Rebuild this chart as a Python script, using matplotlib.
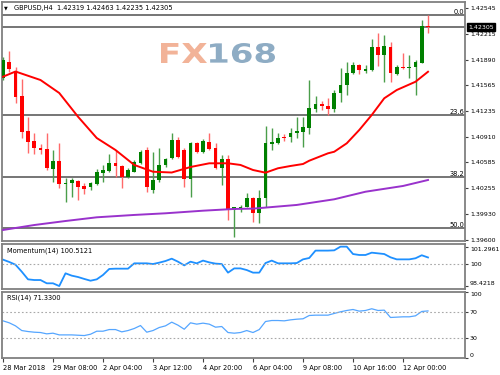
import numpy as np
import matplotlib.pyplot as plt
from matplotlib.textpath import TextPath
from matplotlib.patches import PathPatch
from matplotlib.font_manager import FontProperties
from matplotlib.transforms import Affine2D, IdentityTransform

# GBPUSD H4, 28 Mar - 12 Apr 2018
opens = [1.41657, 1.41864, 1.41750, 1.41429, 1.40984, 1.40857, 1.40772, 1.40752, 1.40502, 1.40603,
         1.40311, 1.40320, 1.40353, 1.40286, 1.40277, 1.40307, 1.40455, 1.40480, 1.40582, 1.40540,
         1.40404, 1.40467, 1.40574, 1.40743, 1.40235, 1.40362, 1.40553, 1.40638, 1.40870, 1.40743,
         1.40371, 1.40836, 1.40721, 1.40848, 1.40765, 1.40511, 1.40629, 1.39981, 1.39994, 1.40023,
         1.40130, 1.39939, 1.40130, 1.40819, 1.40827, 1.40914, 1.40904, 1.40955, 1.40975, 1.41019,
         1.41264, 1.41323, 1.41302, 1.41264, 1.41463, 1.41569, 1.41717, 1.41823, 1.41750, 1.41759,
         1.42055, 1.41950, 1.42055, 1.41708, 1.41801, 1.41781, 1.41801, 1.41852, 1.42319]
highs = [1.41924, 1.42000, 1.41797, 1.41645, 1.41162, 1.40959, 1.40819, 1.40959, 1.40743, 1.40832,
         1.40387, 1.40387, 1.40362, 1.40324, 1.40340, 1.40502, 1.40553, 1.40692, 1.40743, 1.40553,
         1.40514, 1.40616, 1.40743, 1.40781, 1.40721, 1.40768, 1.40638, 1.40955, 1.40912, 1.40768,
         1.40848, 1.40848, 1.40879, 1.40955, 1.40828, 1.40680, 1.40680, 1.40023, 1.40045, 1.40201,
         1.40142, 1.40235, 1.41048, 1.41019, 1.40955, 1.40946, 1.41019, 1.41166, 1.41166, 1.41632,
         1.41429, 1.41369, 1.41400, 1.41505, 1.41781, 1.41864, 1.41857, 1.41835, 1.41823, 1.42149,
         1.42233, 1.42204, 1.42118, 1.41823, 1.41979, 1.41950, 1.41886, 1.42394, 1.42463]
lows = [1.41632, 1.41734, 1.41340, 1.40895, 1.40705, 1.40692, 1.40692, 1.40495, 1.40340, 1.40260,
        1.40086, 1.40150, 1.40108, 1.40184, 1.40235, 1.40298, 1.40340, 1.40467, 1.40404, 1.40257,
        1.40387, 1.40464, 1.40565, 1.40213, 1.40193, 1.40340, 1.40531, 1.40625, 1.40638, 1.40277,
        1.40150, 1.40709, 1.40709, 1.40743, 1.40498, 1.40298, 1.39854, 1.39642, 1.39959, 1.40015,
        1.39832, 1.39812, 1.40023, 1.40743, 1.40820, 1.40857, 1.40848, 1.40892, 1.40777, 1.40946,
        1.41229, 1.41251, 1.41188, 1.41229, 1.41356, 1.41442, 1.41708, 1.41708, 1.41717, 1.41750,
        1.41810, 1.41610, 1.41610, 1.41696, 1.41768, 1.41654, 1.41442, 1.41844, 1.42235]
closes = [1.41886, 1.41768, 1.41420, 1.40975, 1.40848, 1.40768, 1.40743, 1.40511, 1.40603, 1.40307,
          1.40328, 1.40362, 1.40277, 1.40248, 1.40328, 1.40467, 1.40489, 1.40582, 1.40540, 1.40404,
          1.40489, 1.40594, 1.40721, 1.40277, 1.40362, 1.40553, 1.40625, 1.40870, 1.40658, 1.40371,
          1.40836, 1.40721, 1.40861, 1.40752, 1.40511, 1.40629, 1.39981, 1.40015, 1.40023, 1.40130,
          1.39939, 1.40130, 1.40828, 1.40848, 1.40892, 1.40895, 1.40963, 1.40988, 1.41039, 1.41273,
          1.41323, 1.41306, 1.41264, 1.41471, 1.41569, 1.41725, 1.41823, 1.41759, 1.41768, 1.42055,
          1.41950, 1.42064, 1.41717, 1.41801, 1.41781, 1.41801, 1.41864, 1.42318, 1.42305]

# moving averages (bar index, price)
red_ma_idx = [0, 2, 6, 9, 12, 15, 18, 21, 24, 27, 30, 33, 36, 38, 40, 42, 44, 46, 48, 49,
              52, 53, 55, 57, 59, 61, 63, 66, 68]
red_ma = [1.41674, 1.41740, 1.41632, 1.41467, 1.41166, 1.40895, 1.40743, 1.40553, 1.40467, 1.40457,
          1.40527, 1.40574, 1.40574, 1.40553, 1.40489, 1.40455, 1.40511, 1.40540, 1.40565, 1.40607,
          1.40701, 1.40721, 1.40828, 1.40997, 1.41188, 1.41400, 1.41505, 1.41610, 1.41737]
purple_ma_idx = [0, 5, 10, 15, 21, 26, 32, 37, 40, 47, 53, 58, 64, 68]
purple_ma = [1.39727, 1.39790, 1.39841, 1.39888, 1.39918, 1.39939, 1.39972, 1.39994, 1.39998,
             1.40045, 1.40117, 1.40213, 1.40286, 1.40362]

fib_names = ['0.0', '23.6', '38.2', '50.0']
fib_prices = [1.42463, 1.41184, 1.40400, 1.39750]
last_price = 1.42305

momentum = [100.35, 100.18, 99.98, 99.47, 98.91, 98.86, 98.86, 98.62, 98.62, 98.42,
            99.35, 99.18, 99.08, 98.94, 98.81, 98.91, 99.23, 99.67, 99.69, 99.69,
            99.69, 100.08, 100.08, 100.08, 100.03, 100.13, 100.25, 100.42, 100.20, 99.93,
            100.20, 100.08, 100.28, 100.15, 100.06, 100.03, 99.40, 99.71, 99.71, 99.59,
            99.40, 99.40, 100.10, 100.28, 100.08, 100.08, 100.08, 100.10, 100.37, 100.47,
            101.01, 101.01, 101.01, 101.03, 101.30, 101.30, 100.76, 100.69, 100.69, 100.86,
            100.81, 100.76, 100.52, 100.37, 100.37, 100.37, 100.45, 100.67, 100.51]
rsi = [56.3, 53.3, 48.7, 41.6, 40.1, 39.1, 38.6, 36.6, 37.6, 35.0,
       35.0, 35.0, 34.5, 34.0, 36.0, 40.6, 40.6, 43.1, 43.1, 39.6,
       41.6, 44.7, 49.2, 39.1, 41.6, 46.2, 48.7, 54.3, 49.7, 43.6,
       53.3, 51.3, 52.8, 51.3, 46.7, 47.7, 38.6, 37.6, 38.6, 41.6,
       38.6, 43.1, 55.3, 56.8, 56.8, 56.3, 57.8, 58.8, 59.4, 64.4,
       64.9, 64.9, 64.9, 67.5, 70.0, 72.0, 73.5, 71.0, 72.0, 74.6,
       72.0, 72.5, 61.4, 61.9, 62.4, 62.4, 63.9, 70.5, 71.33]

price_ticks = [1.42545, 1.42215, 1.41890, 1.41565, 1.41235, 1.40910, 1.40585, 1.40255, 1.39930, 1.39600]
date_idx = [0, 8, 16, 24, 32, 40, 48, 56, 64]
date_labels = ['28 Mar 2018', '29 Mar 08:00', '2 Apr 04:00', '3 Apr 12:00', '4 Apr 20:00',
               '6 Apr 04:00', '9 Apr 08:00', '10 Apr 16:00', '12 Apr 00:00']

W, H = 500, 375
fs = 4.8
tfs = 4.5
border = '#808080'
plt.rcParams['font.family'] = 'DejaVu Sans'

fig = plt.figure(figsize=(W / 100, H / 100), dpi=100)
fig.patch.set_facecolor('white')


def panel(y_top, y_bot):
    a = fig.add_axes([2 / W, 1 - y_bot / H, 463 / W, (y_bot - y_top) / H])
    for s in a.spines.values():
        s.set_color(border)
        s.set_linewidth(1.3)
    a.set_xlim(-0.16, 73.92)
    a.yaxis.tick_right()
    a.tick_params(axis='y', direction='out', length=2.5, width=0.8, color='#404040',
                  labelsize=tfs, pad=1)
    a.tick_params(axis='x', bottom=False, labelbottom=False)
    return a


ax = panel(2, 241)
ax_mom = panel(244, 289)
ax_rsi = panel(292, 358)

# price panel
o = np.array(opens)
c = np.array(closes)
x = np.arange(len(o))
up = c > o
ax.vlines(x, lows, highs, colors=np.where(up, '#4a9e4a', '#ff6a6a'), lw=1.0, zorder=3)
ax.bar(x, np.maximum(np.abs(c - o), 0.0001), bottom=np.minimum(o, c), width=0.62,
       color=np.where(up, '#008000', '#ff0000'), linewidth=0, zorder=4)
ax.plot(red_ma_idx, red_ma, color='#ff0000', lw=1.4, zorder=5)
ax.plot(purple_ma_idx, purple_ma, color='#9932cc', lw=1.4, zorder=5)

for name, p in zip(fib_names, fib_prices):
    ax.axhline(p, color='#6a6a6a', lw=1.3, zorder=2)
    ax.text(73.8, p, name, fontsize=fs, ha='right', va='bottom', zorder=6)
ax.axhline(last_price, color='#6a6a6a', lw=1.3, zorder=2)

ax.set_ylim(1.39587, 1.42623)
ax.set_yticks(price_ticks, ['%.5f' % t for t in price_ticks])
ax.text(1.007, last_price, '%.5f' % last_price, transform=ax.get_yaxis_transform(),
        fontsize=tfs, color='white', ha='left', va='center', zorder=10, clip_on=False,
        bbox=dict(boxstyle='square,pad=0.25', fc='black', ec='black'))

# momentum panel
ax_mom.plot(x, momentum, color='#1e90ff', lw=1.3)
ax_mom.axhline(100, color='#a8a8a8', lw=0.8, ls=(0, (1.5, 2)))
ax_mom.set_ylim(98.204, 101.493)
ax_mom.set_yticks([101.2961, 100, 98.4218], ['101.2961', '100', '98.4218'])
tl = ax_mom.get_yticklabels()
tl[0].set_va('top')
tl[2].set_va('bottom')
ax_mom.text(0.01, 0.86, 'Momentum(14) %.4f' % 100.5121, transform=ax_mom.transAxes,
            fontsize=fs, va='center')

# RSI panel
ax_rsi.plot(x, rsi, color='#55a6ff', lw=0.9)
for lv in (70, 30):
    ax_rsi.axhline(lv, color='#a8a8a8', lw=0.8, ls=(0, (1.5, 2)))
ax_rsi.set_ylim(0, 100)
ax_rsi.set_yticks([100, 70, 30, 0], ['100', '70', '30', '0'])
tl = ax_rsi.get_yticklabels()
tl[0].set_va('top')
tl[3].set_va('bottom')
ax_rsi.text(0.01, 0.92, 'RSI(14) %.4f' % 71.33, transform=ax_rsi.transAxes,
            fontsize=fs, va='center')
ax_rsi.set_xticks(date_idx, date_labels)
ax_rsi.tick_params(axis='x', bottom=True, labelbottom=True, direction='out', length=3,
                   width=0.8, color='#404040', labelsize=fs, pad=2)
for lab in ax_rsi.get_xticklabels():
    lab.set_ha('left')

# title line
fig.text(4 / W, 1 - 8 / H, '\u25bc', fontsize=3.5, va='center')
fig.text(14 / W, 1 - 8 / H, 'GBPUSD,H4  1.42319 1.42463 1.42235 1.42305', fontsize=fs, va='center')

# FX168 watermark
fp = FontProperties(family='DejaVu Sans', weight='bold')


def stamp(s, x0, x1, y0, y1, color):
    tp = TextPath((0, 0), s, size=10, prop=fp)
    bb = tp.get_extents()
    tr = (Affine2D().translate(-bb.x0, -bb.y0)
          .scale((x1 - x0) / bb.width, (y1 - y0) / bb.height)
          .translate(x0, H - y1))
    fig.add_artist(PathPatch(tr.transform_path(tp), transform=IdentityTransform(),
                             facecolor=color, lw=0, zorder=1))


stamp('FX', 161, 207, 43, 63, '#f2b398')
stamp('168', 210, 275, 43, 63, '#8eacc4')

fig.savefig('out.png', dpi=100)
